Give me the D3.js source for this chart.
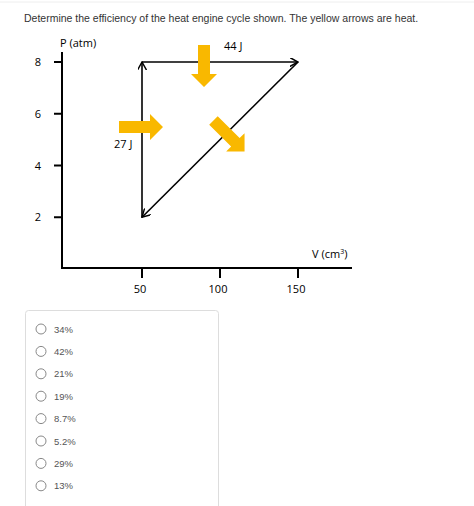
<!DOCTYPE html><html><head><meta charset="utf-8">
<script src="https://cdn.jsdelivr.net/npm/d3@7"></script>
<style>body{margin:0;background:#fff;font-family:Arial,"Liberation Sans",sans-serif}</style></head><body>
<svg id="c" width="474" height="506"></svg>
<script>
const title="Determine the efficiency of the heat engine cycle shown. The yellow arrows are heat.";
const yTicks=[2,4,6,8];
const xTicks=[50,100,150];
const cycleV=[50,50,150];
const cycleP=[2,8,8];
const heatLabels=["44 J","27 J"];
const options=["34%","42%","21%","19%","8.7%","5.2%","29%","13%"];

const svg=d3.select("#c");
svg.append("line").attr("x1",0).attr("x2",474).attr("y1",2).attr("y2",2).attr("stroke","#eee");
svg.append("text").attr("x",24).attr("y",22).attr("font-size",10.5).attr("fill","#333").text(title);

const x=d3.scaleLinear().domain([0,150]).range([64,298]);
const y=d3.scaleLinear().domain([0,8]).range([269,62]);
const ff="'Open Sans',sans-serif";
// axes
svg.append("line").attr("x1",62).attr("x2",62).attr("y1",52).attr("y2",269).attr("stroke","#000").attr("stroke-width",2);
svg.append("line").attr("x1",61).attr("x2",352).attr("y1",268).attr("y2",268).attr("stroke","#000").attr("stroke-width",2);
yTicks.forEach(t=>{
 svg.append("line").attr("x1",54).attr("x2",62).attr("y1",y(t)).attr("y2",y(t)).attr("stroke","#000").attr("stroke-width",2);
 svg.append("text").attr("x",38).attr("y",y(t)+4).attr("text-anchor","middle").attr("font-size",11).attr("font-family",ff).text(t);
});
xTicks.forEach(t=>{
 svg.append("line").attr("x1",x(t)).attr("x2",x(t)).attr("y1",268).attr("y2",278).attr("stroke","#000").attr("stroke-width",2);
 svg.append("text").attr("x",x(t)-2).attr("y",293).attr("text-anchor","middle").attr("font-size",11).attr("font-family",ff).text(t);
});
svg.append("text").attr("x",60).attr("y",47).attr("font-size",11).attr("font-family",ff).text("P (atm)");
const vl=svg.append("text").attr("x",312).attr("y",258).attr("font-size",11).attr("font-family",ff).text("V (cm");
vl.append("tspan").attr("font-size",7).attr("dy",-4).text("3");
vl.append("tspan").attr("dy",4).text(")");

// arrow marker
svg.append("defs").append("marker").attr("id","ah").attr("viewBox","0 0 10 10").attr("refX",9).attr("refY",5)
 .attr("markerWidth",9).attr("markerHeight",9).attr("markerUnits","userSpaceOnUse").attr("orient","auto")
 .append("path").attr("d","M0,0L9,5L0,10").attr("fill","none").attr("stroke","#000").attr("stroke-width",1.6);
const seg=(a,b)=>svg.append("line").attr("x1",x(cycleV[a])).attr("y1",y(cycleP[a])).attr("x2",x(cycleV[b])).attr("y2",y(cycleP[b]))
 .attr("stroke","#000").attr("stroke-width",1.6).attr("marker-end","url(#ah)");
seg(0,1);seg(1,2);seg(2,0);

// heat arrows (shape: shaft + head), pointing +x, then rotated
const gold="#f9b800";
function heat(cx,cy,ang,len){
 const g=svg.append("g").attr("transform",`translate(${cx},${cy}) rotate(${ang})`);
 g.append("path").attr("d",`M${-len/2},-6L${len/2-13},-6L${len/2-13},-13L${len/2},0L${len/2-13},13L${len/2-13},6L${-len/2},6Z`).attr("fill",gold);
}
heat(204,66,90,42);
heat(141,127,0,44);
heat(229,136,45,44);
svg.append("text").attr("x",224).attr("y",50).attr("font-size",11).attr("font-family",ff).text(heatLabels[0]);
svg.append("text").attr("x",114).attr("y",148).attr("font-size",11).attr("font-family",ff).text(heatLabels[1]);

// options box
svg.append("rect").attr("x",25.5).attr("y",310.5).attr("width",193).attr("height",200).attr("rx",3).attr("fill","#fff").attr("stroke","#ddd");
options.forEach((o,i)=>{
 const yy=329+i*22.4;
 svg.append("circle").attr("cx",41).attr("cy",yy).attr("r",5).attr("fill","#fff").attr("stroke","#888");
 svg.append("text").attr("x",54).attr("y",yy+3.5).attr("font-size",9.5).attr("fill","#555").text(o);
});
</script></body></html>
